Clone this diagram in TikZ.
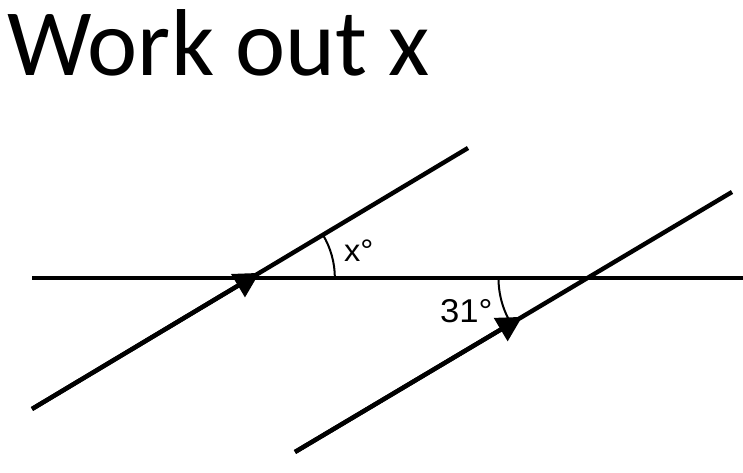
\documentclass[tikz,border=0pt]{standalone}
\usepackage{fontspec}
\setmainfont{Carlito}
\newfontfamily\labelfont{Liberation Sans}
\usetikzlibrary{arrows.meta,calc}
\begin{document}
\begin{tikzpicture}[x=1pt,y=1pt,
  thickline/.style={line width=4.4pt},
  anglearc/.style={line width=2pt},
  lbl/.style={inner sep=0pt, anchor=base west, xscale=1.05},
  arrowhead/.style={line width=4.4pt,-{Triangle[length=25pt,width=26pt]}}]
\useasboundingbox (0,0) rectangle (743,473);
\node[anchor=base west, inner sep=0pt, font=\fontsize{95}{95}\selectfont] (title) at (7,397) {Work out x};
\coordinate (A1) at (32,64);
\coordinate (B1) at (468,325);
\coordinate (A2) at (295,21);
\coordinate (B2) at (732,281);
\coordinate (H1) at (32,195);
\coordinate (H2) at (743,195);
\coordinate (P1) at (intersection of A1--B1 and H1--H2);
\coordinate (P2) at (intersection of A2--B2 and H1--H2);
\coordinate (T1) at ($(P1)!10pt!(B1)$);
\coordinate (T2) at ($(P2)!76pt!(A2)$);
\draw[thickline] (H1) -- (H2);
\draw[thickline] (A1) -- (B1);
\draw[thickline] (A2) -- (B2);
\draw[arrowhead] (A1) -- (T1);
\draw[arrowhead] (A2) -- (T2);
\draw[anglearc] ($(P1)+(84,0)$) arc[start angle=0, end angle=31, radius=84];
\draw[anglearc] ($(P2)+(-89,0)$) arc[start angle=180, end angle=211, radius=89];
\node[lbl, font=\labelfont\fontsize{31}{31}\selectfont] (xlabel) at (344,211) {x°};
\node[lbl, font=\labelfont\fontsize{33}{33}\selectfont] (alabel) at (440,150) {31°};
\end{tikzpicture}
\end{document}
